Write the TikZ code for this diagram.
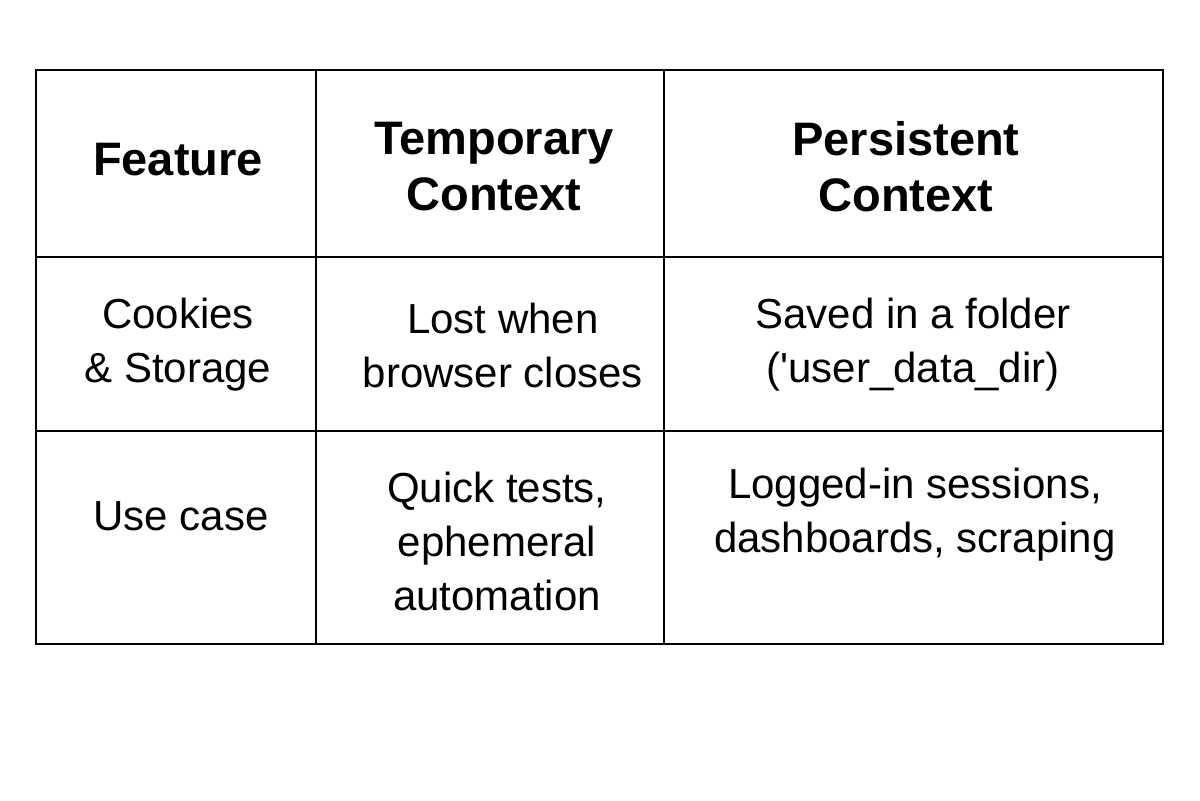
\documentclass[tikz,border=0pt]{standalone}
\usepackage{fontspec}
\setmainfont{Liberation Sans}
\begin{document}
\begin{tikzpicture}[x=0.5pt,y=-0.5pt,
  cell/.style={align=center,font=\fontsize{21}{27}\selectfont,inner sep=0pt},
  head/.style={cell,font=\fontsize{23.5}{28}\selectfont\bfseries}]
\useasboundingbox (0,0) rectangle (1200,800);
\draw[line width=1.2pt] (36,70) rectangle (1163,644);
\foreach \x in {316,664} \draw[line width=1.2pt] (\x,70) -- (\x,644);
\foreach \y in {257,431} \draw[line width=1.2pt] (36,\y) -- (1163,\y);
\node[head] (h1) at (178,160) {Feature};
\node[head] (h2) at (494,167) {Temporary\\Context};
\node[head] (h3) at (906,167) {Persistent\\Context};
\node[cell] (a1) at (178,345) {Cookies\\\& Storage};
\node[cell] (a2) at (503,345) {Lost when\\browser closes};
\node[cell] (a3) at (913,345) {Saved in a folder\\(\textquotesingle user\_data\_dir)};
\node[cell] (b1) at (181,516) {Use case};
\node[cell] (b2) at (497,541) {Quick tests,\\ephemeral\\automation};
\node[cell] (b3) at (915,515) {Logged-in sessions,\\dashboards, scraping};
\end{tikzpicture}
\end{document}
